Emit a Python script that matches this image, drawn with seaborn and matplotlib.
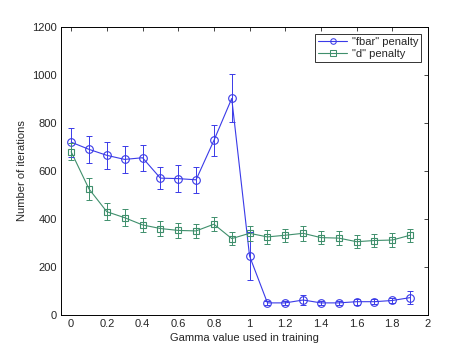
import pandas as pd
import matplotlib
matplotlib.use("Agg")
import matplotlib.pyplot as plt
import seaborn as sns

# values
gamma = [0.0, 0.1, 0.2, 0.3, 0.4, 0.5, 0.6, 0.7, 0.8, 0.9,
         1.0, 1.1, 1.2, 1.3, 1.4, 1.5, 1.6, 1.7, 1.8, 1.9]
fbar_mean = [720, 690, 665, 648, 655, 570, 568, 563, 727, 902,
             245, 50, 50, 62, 50, 50, 55, 55, 60, 72]
fbar_err = [60, 55, 55, 55, 55, 45, 55, 55, 65, 100,
            100, 8, 8, 20, 8, 8, 12, 10, 12, 28]
d_mean = [680, 525, 430, 405, 375, 360, 352, 350, 378, 318,
          340, 325, 332, 340, 322, 320, 305, 310, 312, 332]
d_err = [35, 45, 35, 35, 30, 30, 30, 28, 28, 28,
         30, 28, 28, 30, 28, 28, 28, 28, 28, 28]

df = pd.DataFrame({"gamma": gamma * 2,
                   "iters": fbar_mean + d_mean,
                   "penalty": ['"fbar" penalty'] * len(gamma) + ['"d" penalty'] * len(gamma)})

sns.set_style("white")
plt.rcParams["font.family"] = ["Liberation Sans", "DejaVu Sans"]

fig, ax = plt.subplots(figsize=(4.74, 3.55), dpi=100)
fig.subplots_adjust(left=0.129, right=0.903, top=0.924, bottom=0.113)

blue = "#3a3ae8"
green = "#3f8f6c"

sns.lineplot(data=df, x="gamma", y="iters", hue="penalty", style="penalty",
             palette=[blue, green], markers=["o", "s"], dashes=False,
             markersize=5, markerfacecolor="none", linewidth=0.8, ax=ax)
sizes = [5.5, 4]
for line, c, ms in zip(ax.lines[:2], [blue, green], sizes):
    line.set_markeredgecolor(c)
    line.set_markerfacecolor("none")
    line.set_markeredgewidth(0.8)
    line.set_markersize(ms)

ax.errorbar(gamma, fbar_mean, yerr=fbar_err, fmt="none", ecolor=blue,
            elinewidth=0.7, capsize=2.5, capthick=0.7)
ax.errorbar(gamma, d_mean, yerr=d_err, fmt="none", ecolor=green,
            elinewidth=0.7, capsize=2.5, capthick=0.7)

ax.set_xlim(-0.056, 2)
ax.set_ylim(0, 1200)
ax.set_xticks([0, 0.2, 0.4, 0.6, 0.8, 1, 1.2, 1.4, 1.6, 1.8, 2])
ax.set_xticklabels(["0", "0.2", "0.4", "0.6", "0.8", "1", "1.2", "1.4", "1.6", "1.8", "2"])
ax.set_yticks(range(0, 1201, 200))
ax.tick_params(direction="in", length=3, labelsize=8, top=True, right=True, width=0.6, pad=3)
ax.set_xlabel("Gamma value used in training", fontsize=8, labelpad=3)
ax.set_ylabel("Number of iterations", fontsize=8, labelpad=4)
for s in ax.spines.values():
    s.set_color("black")
    s.set_linewidth(0.7)

leg = ax.legend(loc="upper right", fontsize=8, frameon=True, fancybox=False,
                edgecolor="black", handlelength=2.6, borderpad=0.3, labelspacing=0.15,
                handletextpad=0.4, borderaxespad=0.6, markerscale=0.8)
leg.get_frame().set_linewidth(0.7)
for h, c in zip(leg.legend_handles, [blue, green]):
    h.set_markerfacecolor("none")
    h.set_markeredgecolor(c)
    h.set_linewidth(0.8)

fig.savefig("out.png", dpi=100)
